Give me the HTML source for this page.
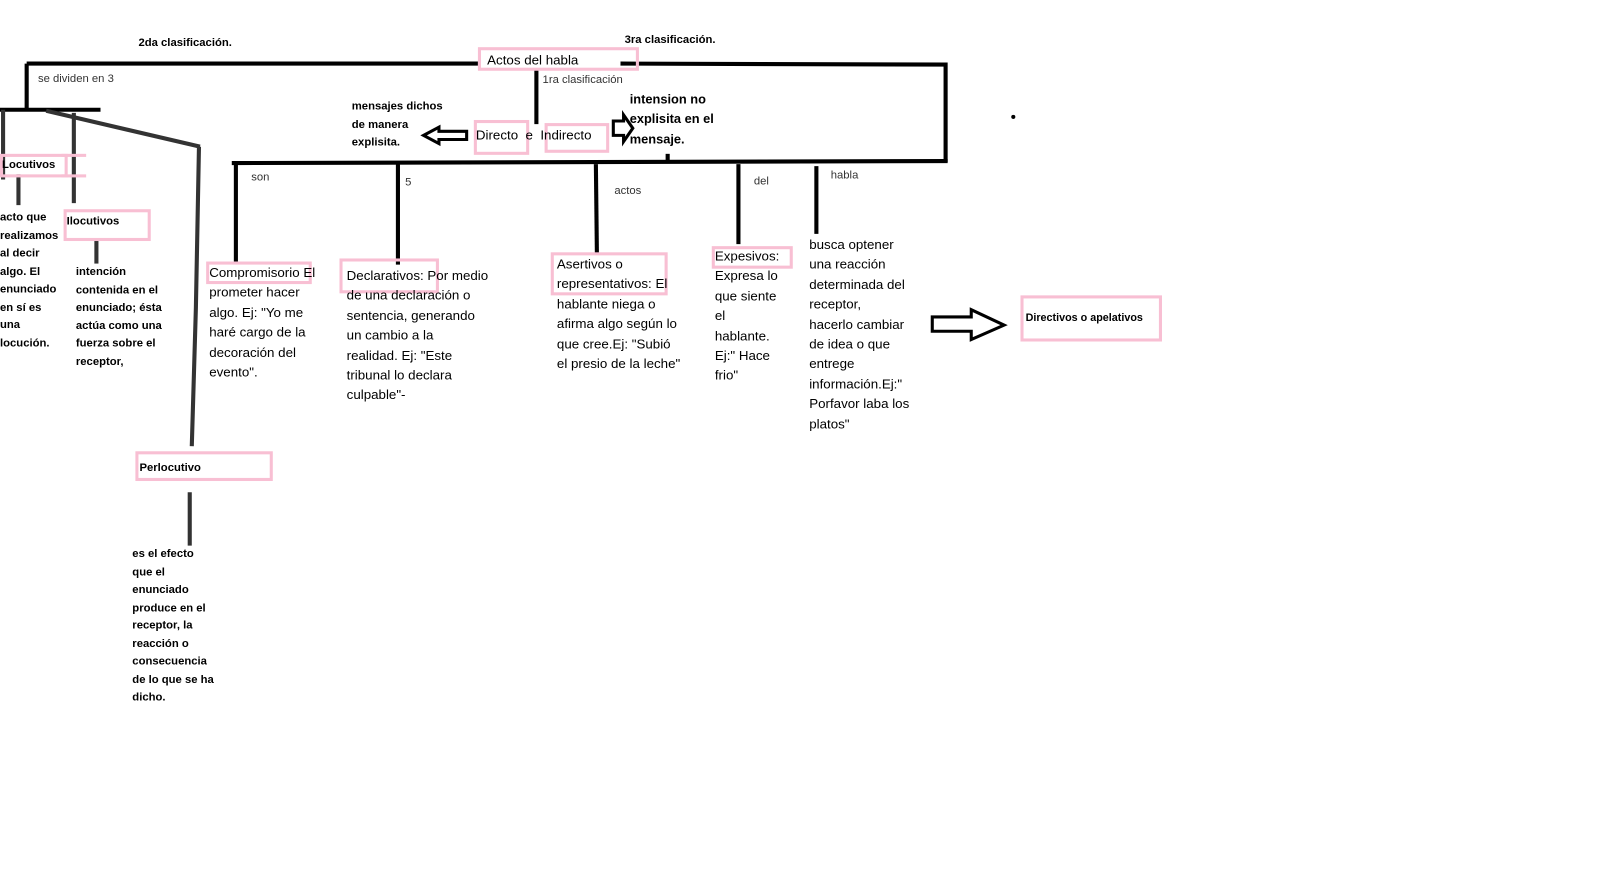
<!DOCTYPE html>
<html><head><meta charset="utf-8"><style>
html,body{margin:0;padding:0;background:#fff;width:1600px;height:871px;overflow:hidden;position:relative}
#w{position:absolute;left:0;top:0;width:1560px;height:850px;transform:scale(1.0256);transform-origin:0 0}
.t{position:absolute;font-family:"Liberation Sans",sans-serif;color:#000;white-space:nowrap}
.s{font-size:11px;font-weight:bold;line-height:17.5px}
.m{font-size:13px;line-height:19.4px}
.l{font-size:11px;color:#333}
.b{position:absolute;border:3px solid #f8bfd3;box-sizing:border-box}
svg{position:absolute;left:0;top:0}
</style></head><body><div id="w">
<svg width="1560" height="850">
<g stroke="#000" stroke-width="4" fill="none">
<line x1="26" y1="62" x2="466" y2="62"/>
<line x1="605" y1="62" x2="923" y2="63"/>
<line x1="922" y1="61" x2="922" y2="158"/>
<line x1="226" y1="159" x2="924" y2="157"/>
<line x1="26" y1="62" x2="26" y2="107"/>
<line x1="0" y1="107" x2="98" y2="107"/>
<line x1="523" y1="68" x2="523" y2="121"/>
<line x1="230" y1="158" x2="230" y2="255"/>
<line x1="388" y1="160" x2="388" y2="258"/>
<line x1="581" y1="160" x2="582" y2="248"/>
<line x1="720" y1="160" x2="720" y2="238"/>
<line x1="796" y1="162" x2="796" y2="228"/>
<line x1="651" y1="150" x2="651" y2="157"/>
</g>
<g stroke="#333" stroke-width="4" fill="none">
<line x1="3" y1="107" x2="3" y2="175"/>
<line x1="72" y1="110" x2="72" y2="198"/>
<line x1="45" y1="108" x2="195" y2="143"/>
<polyline points="194,143 191,300 187,435"/>
<line x1="18" y1="170" x2="18" y2="200"/>
<line x1="94" y1="235" x2="94" y2="257"/>
<line x1="185" y1="480" x2="185" y2="532"/>
</g>
<polygon points="413,132 428,124 428,128 455,128 455,136 428,136 428,140" fill="#fff" stroke="#000" stroke-width="3"/>
<polygon points="598,118 608,118 608,112 617,125 608,138 608,132 598,132" fill="#fff" stroke="#000" stroke-width="3"/>
<polygon points="909,309 947,309 947,302 979,317 947,331 947,323 909,323" fill="#fff" stroke="#000" stroke-width="3"/>
<circle cx="988" cy="114" r="2" fill="#000"/>
</svg>
<div class="b" style="left:466px;top:46px;width:157px;height:23px"></div>
<div class="b" style="left:462px;top:117px;width:54px;height:34px"></div>
<div class="b" style="left:531px;top:120px;width:63px;height:29px"></div>
<div class="b" style="left:0;top:150px;width:66px;height:23px"></div>
<div class="b" style="left:60px;top:150px;width:24px;height:23px;border-left:none;border-right:none"></div>
<div class="b" style="left:62px;top:204px;width:85px;height:31px"></div>
<div class="b" style="left:132px;top:440px;width:134px;height:29px"></div>
<div class="b" style="left:995px;top:288px;width:138px;height:45px"></div>
<div class="b" style="left:201px;top:255px;width:103px;height:22px"></div>
<div class="b" style="left:331px;top:252px;width:97px;height:34px"></div>
<div class="b" style="left:537px;top:246px;width:114px;height:42px"></div>
<div class="b" style="left:694px;top:240px;width:79px;height:22px"></div>

<div class="t s" style="left:135px;top:34px">2da clasificación.</div>
<div class="t s" style="left:609px;top:31px">3ra clasificación.</div>
<div class="t m" style="left:475px;top:49px">Actos del habla</div>
<div class="t l" style="left:37px;top:71px">se dividen en 3</div>
<div class="t l" style="left:529px;top:72px">1ra clasificación</div>
<div class="t s" style="left:343px;top:96px;line-height:17.5px">mensajes dichos<br>de manera<br>explisita.</div>
<div class="t m" style="left:614px;top:88px;font-weight:bold;font-size:12.5px">intension no<br>explisita en el<br>mensaje.</div>
<div class="t m" style="left:464px;top:122px">Directo&nbsp; e&nbsp; Indirecto</div>
<div class="t s" style="left:2px;top:153px">Locutivos</div>
<div class="t s" style="left:0;top:204px">acto que<br>realizamos<br>al decir<br>algo. El<br>enunciado<br>en sí es<br>una<br>locución.</div>
<div class="t s" style="left:65px;top:208px">Ilocutivos</div>
<div class="t s" style="left:74px;top:257px">intención<br>contenida en el<br>enunciado; ésta<br>actúa como una<br>fuerza sobre el<br>receptor,</div>
<div class="t s" style="left:136px;top:448px">Perlocutivo</div>
<div class="t s" style="left:129px;top:532px">es el efecto<br>que el<br>enunciado<br>produce en el<br>receptor, la<br>reacción o<br>consecuencia<br>de lo que se ha<br>dicho.</div>
<div class="t l" style="left:245px;top:167px">son</div>
<div class="t l" style="left:395px;top:172px">5</div>
<div class="t l" style="left:599px;top:180px">actos</div>
<div class="t l" style="left:735px;top:171px">del</div>
<div class="t l" style="left:810px;top:165px">habla</div>
<div class="t m" style="left:204px;top:256px">Compromisorio El<br>prometer hacer<br>algo. Ej: "Yo me<br>haré cargo de la<br>decoración del<br>evento".</div>
<div class="t m" style="left:338px;top:259px">Declarativos: Por medio<br>de una declaración o<br>sentencia, generando<br>un cambio a la<br>realidad. Ej: "Este<br>tribunal lo declara<br>culpable"-</div>
<div class="t m" style="left:543px;top:248px">Asertivos o<br>representativos: El<br>hablante niega o<br>afirma algo según lo<br>que cree.Ej: "Subió<br>el presio de la leche"</div>
<div class="t m" style="left:697px;top:240px">Expesivos:<br>Expresa lo<br>que siente<br>el<br>hablante.<br>Ej:" Hace<br>frio"</div>
<div class="t m" style="left:789px;top:229px">busca optener<br>una reacción<br>determinada del<br>receptor,<br>hacerlo cambiar<br>de idea o que<br>entrege<br>información.Ej:"<br>Porfavor laba los<br>platos"</div>
<div class="t s" style="left:1000px;top:302px;font-size:10.5px">Directivos o apelativos</div>
</div></body></html>
